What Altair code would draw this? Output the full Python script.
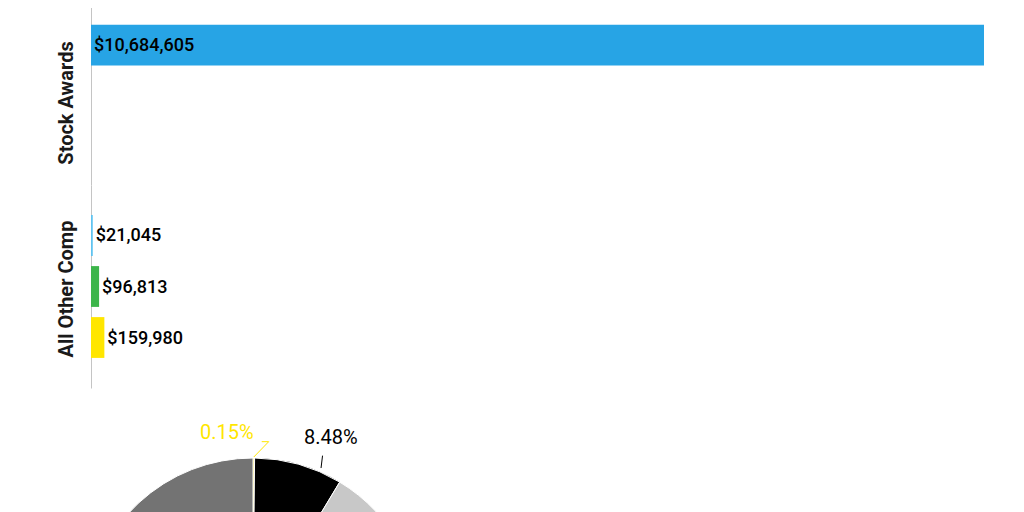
import math
import altair as alt
import pandas as pd

# ---------------- data ----------------
bar_groups = ["Stock Awards", "All Other Comp", "All Other Comp", "All Other Comp"]
bar_slots = [0, 0, 1, 2]
bar_values = [10684605, 21045, 96813, 159980]
bar_colors = ["#27a4e5", "#5fc3f0", "#3cb54a", "#ffe600"]

pie_labels = ["0.15%", "8.48%", "17.50%", "2.50%", "71.37%"]
pie_values = [0.15, 8.48, 17.50, 2.50, 71.37]
pie_colors = ["#ffe600", "#000000", "#c8c8c8", "#9a9a9a", "#737373"]

# ---------------- bar chart ----------------
max_val = max(bar_values)
bar_df = pd.DataFrame({
    "group": bar_groups,
    "slot": bar_slots,
    "value": bar_values,
    "color": bar_colors,
})
bar_df["label"] = ["${:,}".format(v) for v in bar_values]
# label sits inside a long bar, just past the end of a short one
bar_df["labelx"] = [0 if v > 0.5 * max_val else v for v in bar_values]

LABEL_FONT = "Roboto"
TITLE_FONT = "Roboto"


def bar_panel(group, height, pad_outer, align, title_y):
    base = alt.Chart(bar_df).transform_filter(alt.datum.group == group)
    yscale = alt.Scale(domain=[0, 1, 2], paddingInner=0.2,
                       paddingOuter=pad_outer, align=align)
    xscale = alt.Scale(domain=[0, max_val], nice=False, zero=True)
    yaxis = alt.Axis(labels=False, ticks=False, grid=False,
                     domainColor="#c4c4c4", domainWidth=1,
                     title=group, titleFont=TITLE_FONT, titleFontSize=20,
                     titleFontWeight="bold", titleColor="#1a1a1a",
                     titlePadding=15, titleY=title_y)
    bars = base.mark_bar().encode(
        x=alt.X("value:Q", scale=xscale, axis=None),
        y=alt.Y("slot:O", scale=yscale, axis=yaxis),
        color=alt.Color("color:N", scale=None),
    )
    text = base.mark_text(align="left", baseline="middle", dx=3, dy=1,
                          font=LABEL_FONT, fontSize=18, fontWeight=500,
                          color="#000000").encode(
        x=alt.X("labelx:Q", scale=xscale, axis=None),
        y=alt.Y("slot:O", scale=yscale, axis=yaxis),
        text="label:N",
    )
    return alt.layer(bars, text).properties(width=893, height=height)


p1 = bar_panel("Stock Awards", 185, 0.4137, 0.585, 102.5)
p2 = bar_panel("All Other Comp", 203, 0.59, 0.5, 103.5)
bars_block = alt.vconcat(p1, p2, spacing=0)

# ---------------- pie chart ----------------
PIE_W, PIE_H = 324, 452
CX, CY, R = 162, 226, 168

total = sum(pie_values)
starts, ends = [], []
acc = 0.0
for v in pie_values:
    starts.append(acc / total * 2 * math.pi)
    acc += v
    ends.append(acc / total * 2 * math.pi)
mids = [(s + e) / 2 for s, e in zip(starts, ends)]

pie_df = pd.DataFrame({
    "label": pie_labels,
    "value": pie_values,
    "color": pie_colors,
    "start": starts,
    "end": ends,
    "mid": mids,
})

# label placement (style offsets per label)
label_r = 198
label_dx = {"0.15%": -27, "8.48%": 24}
label_dy = {"0.15%": 5, "8.48%": 3}
lx, ly = [], []
for lab, m in zip(pie_labels, mids):
    lx.append(CX + label_r * math.sin(m) + label_dx.get(lab, 0))
    ly.append(CY - label_r * math.cos(m) + label_dy.get(lab, 0))
pie_df["lx"] = lx
pie_df["ly"] = ly

# connectors: list of (radius, angle shift in degrees, extra dx)
conn_shape = {
    "0.15%": [(169, 0.0, 0), (185, 4.6, 0), (185, 4.6, -7)],
    "8.48%": [(172, 7.5, 0), (184, 6.4, 0)],
}
rows = []
for lab, m, col in zip(pie_labels, mids, pie_colors):
    for i, (r, da, ex) in enumerate(conn_shape.get(lab, [])):
        a = m + math.radians(da)
        rows.append({"label": lab, "order": i, "color": col,
                     "px": CX + r * math.sin(a) + ex,
                     "py": CY - r * math.cos(a)})
conn_df = pd.DataFrame(rows)

arcs = alt.Chart(pie_df).mark_arc(stroke="white", strokeWidth=1).encode(
    theta=alt.Theta("start:Q", scale=None),
    theta2="end:Q",
    radius=alt.value(R),
    x=alt.value(CX),
    y=alt.value(CY),
    color=alt.Color("color:N", scale=None),
)

labels = alt.Chart(pie_df).mark_text(
    font=LABEL_FONT, fontSize=20, fontWeight=400, align="center",
    baseline="middle").encode(
    x=alt.X("lx:Q", scale=None, axis=None),
    y=alt.Y("ly:Q", scale=None, axis=None),
    text="label:N",
    color=alt.Color("color:N", scale=None),
)

connectors = alt.Chart(conn_df).mark_line(strokeWidth=1).encode(
    x=alt.X("px:Q", scale=None, axis=None),
    y=alt.Y("py:Q", scale=None, axis=None),
    detail="label:N",
    order="order:Q",
    color=alt.Color("color:N", scale=None),
)

pie = alt.layer(arcs, connectors, labels).properties(width=PIE_W, height=PIE_H)

chart = alt.vconcat(bars_block, pie, spacing=12).properties(
    padding={"left": 48, "top": -8, "right": 5, "bottom": 5},
    background="white",
).configure_view(stroke=None)

chart.save("out.html", embed_options={"renderer": "svg", "actions": False})
